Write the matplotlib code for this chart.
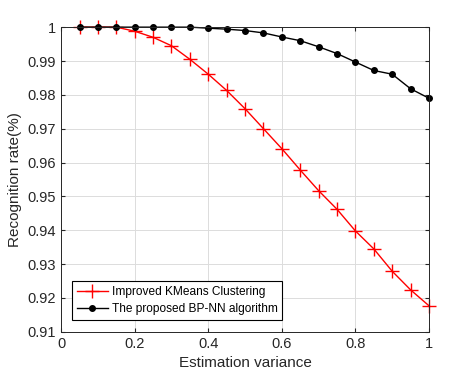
import numpy as np
import matplotlib
matplotlib.use('Agg')
import matplotlib.pyplot as plt

plt.rcParams['font.family'] = ['Liberation Sans', 'DejaVu Sans']

variance = [0.05, 0.10, 0.15, 0.20, 0.25, 0.30, 0.35, 0.40, 0.45, 0.50,
            0.55, 0.60, 0.65, 0.70, 0.75, 0.80, 0.85, 0.90, 0.95, 1.00]
kmeans = [1.0, 1.0, 1.0, 0.9988, 0.9970, 0.9945, 0.9905, 0.9861, 0.9813, 0.9759,
          0.9700, 0.9641, 0.9578, 0.9517, 0.9462, 0.9398, 0.9345, 0.9279, 0.9224, 0.9177]
bpnn = [1.0, 1.0, 1.0, 1.0, 1.0, 1.0, 1.0, 0.9997, 0.9994, 0.9990,
        0.9983, 0.9971, 0.9960, 0.9942, 0.9922, 0.9897, 0.9872, 0.9861, 0.9818, 0.9790]

fig = plt.figure(figsize=(4.74, 3.72), dpi=100)
ax = fig.add_axes([0.129, 0.108, 0.776, 0.819])

ax.plot(variance, kmeans, color='#ff0000', lw=1, marker='+', ms=10, mew=1,
        label='Improved KMeans Clustering', clip_on=False)
ax.plot(variance, bpnn, color='black', lw=1, marker='o', ms=4,
        label='The proposed BP-NN algorithm', clip_on=False)

ax.set_xlim(0, 1)
ax.set_ylim(0.91, 1.0)
ax.set_xticks([0, 0.2, 0.4, 0.6, 0.8, 1])
ax.set_xticklabels(['0', '0.2', '0.4', '0.6', '0.8', '1'])
ax.set_yticks(np.arange(0.91, 1.0001, 0.01))
ax.set_yticklabels(['0.91', '0.92', '0.93', '0.94', '0.95', '0.96', '0.97', '0.98', '0.99', '1'])
ax.grid(True, color='#dcdcdc', lw=0.7)
ax.tick_params(direction='in', length=3, labelsize=10.5, colors='#262626',
               top=True, right=True)
for s in ax.spines.values():
    s.set_color('#262626')
    s.set_linewidth(0.7)

ax.set_xlabel('Estimation variance', fontsize=11, color='#262626', labelpad=4)
ax.set_ylabel('Recognition rate(%)', fontsize=11, color='#262626', labelpad=4)

leg = ax.legend(loc='lower left', fontsize=8.6, fancybox=False, framealpha=1,
                edgecolor='black', handlelength=2.6, borderpad=0.4,
                labelspacing=0.45, handletextpad=0.3, borderaxespad=0,
                bbox_to_anchor=(0.03, 0.039))
leg.get_frame().set_linewidth(0.8)

fig.savefig('out.png', dpi=100)
